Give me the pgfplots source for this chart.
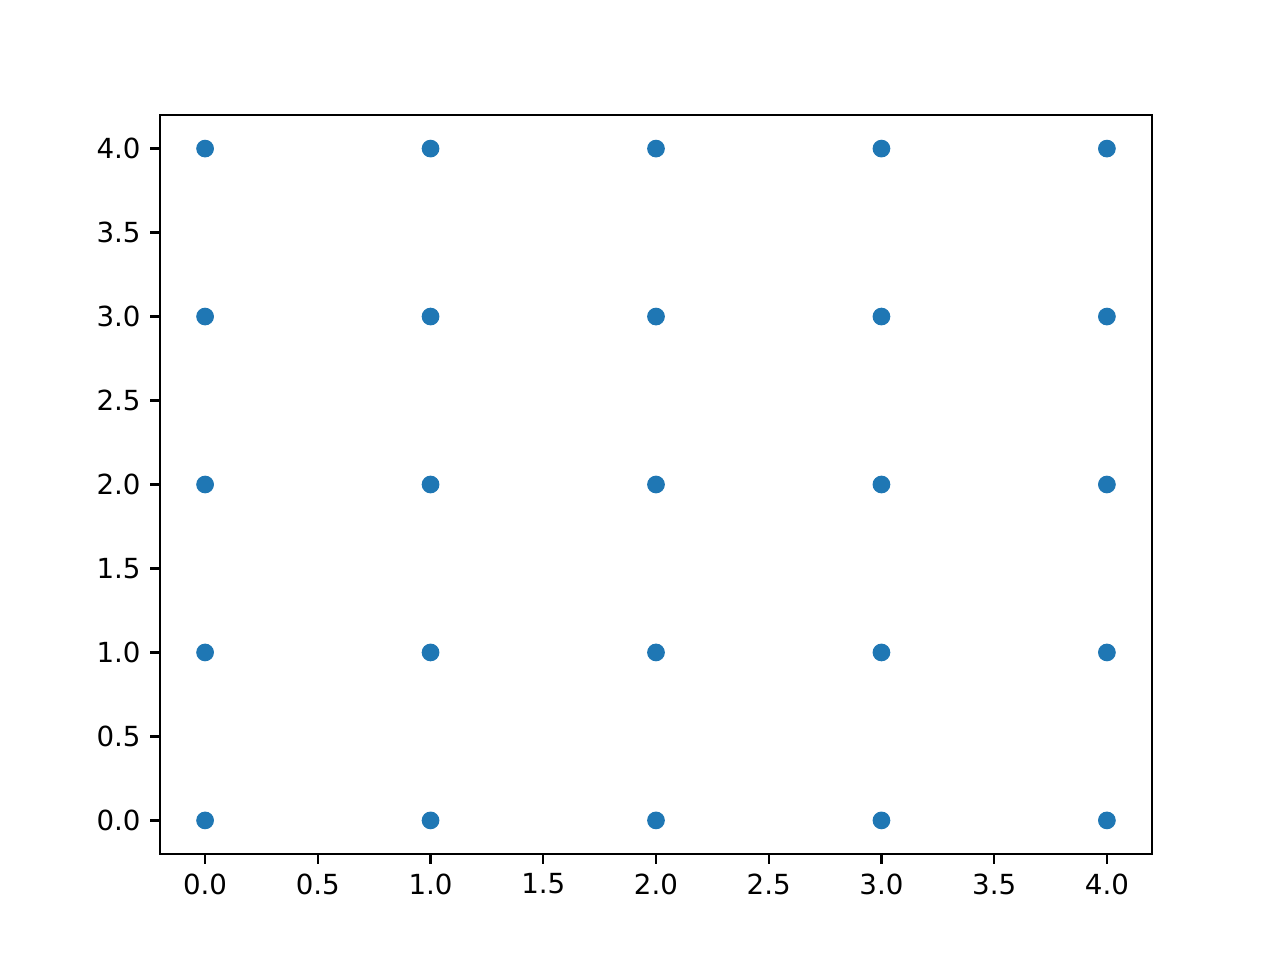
\documentclass[border=0pt]{standalone}
\usepackage{pgfplots}
\pgfplotsset{compat=1.18}
\usepackage{fontspec}
\setmainfont{DejaVu Sans}
\definecolor{mplblue}{HTML}{1F77B4}
\begin{document}
\begin{tikzpicture}
\path[use as bounding box] (0,0) rectangle (6.4in,4.8in);
\begin{axis}[
  at={(0.8in,0.53in)}, anchor=south west,
  scale only axis, width=4.96in, height=3.695in,
  xmin=-0.2, xmax=4.2, ymin=-0.2, ymax=4.2,
  xtick={0,0.5,...,4}, ytick={0,0.5,...,4},
  tick align=outside, tick pos=left,
  major tick length=3.5pt,
  axis line style={line width=0.8pt},
  every tick/.style={black, line width=0.8pt},
  /pgf/number format/assume math mode=true,
  /pgf/number format/.cd, fixed, fixed zerofill, precision=1,
  /pgfplots/.cd,
  tick label style={font=\fontsize{10}{12}\selectfont},
]
\addplot[only marks, mark=*, mark size=3pt, mark options={fill=mplblue, draw=mplblue}] coordinates {
(0,0) (1,0) (2,0) (3,0) (4,0)
(0,1) (1,1) (2,1) (3,1) (4,1)
(0,2) (1,2) (2,2) (3,2) (4,2)
(0,3) (1,3) (2,3) (3,3) (4,3)
(0,4) (1,4) (2,4) (3,4) (4,4)
};
\end{axis}
\end{tikzpicture}
\end{document}
